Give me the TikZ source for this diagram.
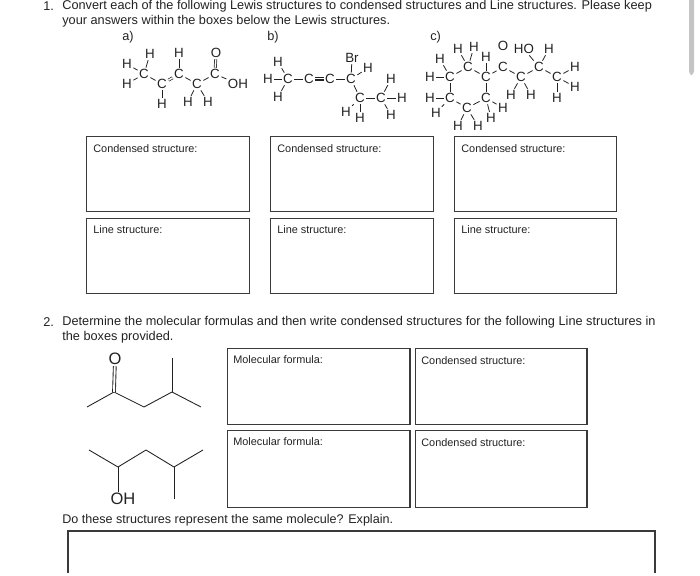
\documentclass[tikz,border=0pt]{standalone}
\usepackage{fontspec}
\setmainfont{Liberation Sans}
\definecolor{ink}{HTML}{222222}
\definecolor{boxline}{HTML}{3A3A3A}
\definecolor{scrollbar}{HTML}{C4C4C4}
\tikzset{
  para/.style={text=ink, font=\fontsize{7.25}{9}\selectfont, anchor=west, inner sep=0pt},
  lab/.style={text=ink, font=\fontsize{6.2}{7.5}\selectfont, anchor=west, inner sep=0pt},
  atom/.style={text=ink, font=\fontsize{7.6}{8}\selectfont, inner sep=0.7pt},
  bigatom/.style={text=ink, font=\fontsize{9.4}{10}\selectfont, inner sep=0.6pt},
  bond/.style={draw=ink, line width=0.45pt},
  dbond/.style={draw=ink, line width=0.4pt, double=white, double distance=0.85pt},
  answerBox/.style={draw=boxline, line width=0.7pt},
  skeleton/.style={draw=ink, line width=0.5pt}
}
\begin{document}
\begin{tikzpicture}[x=0.02cm,y=-0.02cm]
\useasboundingbox (0,0) rectangle (700,575);
\clip (0,0) rectangle (700,575);
% question 1
\node[para] (numA) at (43,6) {1.};
\node[para] (lineA) at (62,6) {Convert each of the following Lewis structures to condensed structures and Line structures. Please keep};
\node[para] (lineB) at (62,21) {your answers within the boxes below the Lewis structures.};
\node[para] (partA) at (122,37) {a)};
\node[para] (partB) at (267,37) {b)};
\node[para] (partC) at (430,37) {c)};

% structure a
\foreach \name/\pos/\txt in {
  aH1/{150,54}/H, aH2/{127,64}/H, aH3/{127,84}/H, aC1/{144,74}/C, aC2/{162,84}/C,
  aC3/{179,74}/C, aH4/{179,53}/H, aH5/{162,104}/H, aC4/{197,84}/C, aH6/{188,102}/H,
  aH7/{208,102}/H, aC5/{215,74}/C, aO/{216,53}/O, aOH/{238,84}/OH}
  \node[atom] (\name) at (\pos) {\txt};
\foreach \a/\b in {aC1/aH1, aC1/aH2, aC1/aH3, aC1/aC2, aC2/aH5, aC3/aH4, aC3/aC4, aC4/aH6, aC4/aH7, aC4/aC5, aC5/aOH}
  \draw[bond] (\a) -- (\b);
\foreach \a/\b in {aC2/aC3, aC5/aO}
  \draw[dbond] (\a) -- (\b);

% structure b
\foreach \name/\pos/\txt in {
  bH1/{278,62}/H, bH2/{268,79}/H, bC1/{288,79}/C, bH3/{278,97}/H, bC2/{309,79}/C,
  bC3/{330,79}/C, bC4/{351,79}/C, bBr/{352,58}/Br, bH4/{368,68}/H, bC5/{360,98}/C,
  bC6/{381,98}/C, bH5/{391,79}/H, bH6/{402,98}/H, bH7/{391,115}/H, bH8/{346,112}/H, bH9/{360,118}/H}
  \node[atom] (\name) at (\pos) {\txt};
\foreach \a/\b in {bC1/bH1, bC1/bH2, bC1/bH3, bC1/bC2, bC3/bC4, bC4/bBr, bC4/bH4, bC4/bC5, bC5/bC6, bC5/bH8, bC5/bH9, bC6/bH5, bC6/bH6, bC6/bH7}
  \draw[bond] (\a) -- (\b);
\draw[dbond, double distance=1.7pt] (bC2) -- (bC3);
\draw[bond, line width=0.4pt] (bC2) -- (bC3);

% structure c
\foreach \name/\pos/\txt in {
  cH1/{440,59}/H, cH2/{430,77}/H, cC1/{450,77}/C, cC2/{468,67}/C, cH3/{458,49}/H, cH4/{474,47}/H,
  cC3/{486,77}/C, cH5/{486,57}/H, cC4/{486,98}/C, cC5/{450,98}/C, cH6/{430,98}/H, cH7/{436,113}/H,
  cC6/{467,108}/C, cH8/{458,126}/H, cH9/{478,126}/H, cH10/{503,108}/H, cH11/{491,118}/H,
  cC7/{503,67}/C, cO/{503,46}/O, cC8/{521,77}/C, cH12/{511,95}/H, cH13/{531,95}/H,
  cC9/{539,67}/C, cHO/{524,49}/HO, cH14/{549,49}/H, cC10/{557,77}/C, cH15/{575,67}/H, cH16/{575,87}/H, cH17/{557,98}/H}
  \node[atom] (\name) at (\pos) {\txt};
\foreach \a/\b in {cC1/cH1, cC1/cH2, cC1/cC2, cC2/cH3, cC2/cH4, cC2/cC3, cC3/cH5, cC3/cC4, cC1/cC5, cC5/cH6, cC5/cH7, cC5/cC6,
  cC6/cH8, cC6/cH9, cC6/cC4, cC4/cH10, cC4/cH11, cC3/cC7, cC7/cC8, cC8/cH12, cC8/cH13, cC8/cC9, cC9/cHO, cC9/cH14, cC9/cC10,
  cC10/cH15, cC10/cH16, cC10/cH17}
  \draw[bond] (\a) -- (\b);
\draw[dbond] (cC7) -- (cO);

% answer boxes, question 1
\foreach \name/\x/\w in {A/86/162.5, B/270/162.5, C/454/161.5} {
  \node[answerBox, minimum width=\w*0.02cm, minimum height=1.5cm, anchor=north west, inner sep=0pt] (cond\name) at (\x,136) {};
  \node[lab] (condLab\name) at (\x+7,149) {Condensed structure:};
  \node[answerBox, minimum width=\w*0.02cm, minimum height=1.5cm, anchor=north west, inner sep=0pt] (line\name) at (\x,218) {};
  \node[lab] (lineLab\name) at (\x+7,230) {Line structure:};
}

% question 2
\node[para] (numB) at (43,322.5) {2.};
\node[para] (lineC) at (62,322.5) {Determine the molecular formulas and then write condensed structures for the following Line structures in};
\node[para] (lineD) at (62,337.5) {the boxes provided.};

% line structures
\foreach \name/\pos in {p1/{87,407}, p2/{114,392}, p3/{144,407}, p4/{172,392}, p5/{172,358}, p6/{201,407},
  q1/{89,450}, q2/{118,467}, q3/{146,450}, q4/{174,467}, q5/{203,450}, q6/{174,499}}
  \coordinate (\name) at (\pos);
\node[bigatom] (pO) at (115,359) {O};
\node[bigatom] (qOH) at (123,499) {OH};
\draw[skeleton, line join=round] (p1) -- (p2) -- (p3) -- (p4) -- (p6);
\draw[skeleton] (p4) -- (p5);
\draw[dbond, line width=0.5pt, double distance=1.1pt] (p2) -- (pO);
\draw[skeleton, line join=round] (q1) -- (q2) -- (q3) -- (q4) -- (q5);
\draw[skeleton] (q4) -- (q6);
\draw[skeleton] (q2) -- (qOH.north -| q2);

% answer boxes, question 2
\foreach \name/\y/\h in {A/348/76, B/430/77} {
  \node[answerBox, minimum width=3.65cm, minimum height=\h*0.02cm, anchor=north west, inner sep=0pt] (form\name) at (227,\y) {};
  \node[lab] (formLab\name) at (233,\y+12) {Molecular formula:};
  \node[answerBox, minimum width=3.43cm, minimum height=\h*0.02cm, anchor=north west, inner sep=0pt] (struct\name) at (415,\y) {};
  \node[lab] (structLab\name) at (421,\y+13) {Condensed structure:};
}

\node[para, font=\fontsize{7.15}{9}\selectfont] (lineE) at (62,520) {Do these structures represent the same molecule? Explain.};
\draw[answerBox] (68,573) -- (68,531) -- (655,531) -- (655,573);

% scroll bar
\fill[scrollbar, rounded corners=2pt] (689,-5) rectangle (694,75);
\end{tikzpicture}
\end{document}
